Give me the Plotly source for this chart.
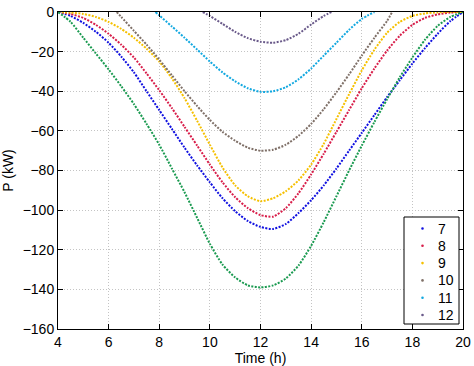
import plotly.graph_objects as go

# ---- data ----
T_FULL = [4.0, 4.5, 5.0, 5.5, 6.0, 6.5, 7.0, 7.5, 8.0, 8.5, 9.0, 9.5, 10.0, 10.5, 11.0, 11.5,
          12.0, 12.5, 13.0, 13.5, 14.0, 14.5, 15.0, 15.5, 16.0, 16.5, 17.0, 17.5, 18.0, 18.5,
          19.0, 19.5, 20.0]

P7 = [0, -2, -5.5, -10, -15.5, -22.5, -30.5, -40, -49.5, -59, -68.5, -77.5, -86, -94, -100.5,
      -105.5, -108.5, -109.5, -107, -101.5, -95, -87.5, -79, -70, -61, -52, -43, -34.5, -26,
      -18.2, -11, -4.6, 0]

P8 = [0, -1, -3, -6.5, -11, -16.5, -23, -31, -39.5, -48.5, -58, -67.5, -77, -86, -93.5, -99,
      -102.5, -103.3, -99, -91.5, -82, -71.5, -60.5, -49.5, -38.5, -28.5, -19.5, -12, -6.5,
      -3, -1.2, -0.3, 0]

P9 = [0, -0.3, -1, -2.5, -5, -8.5, -13, -18.5, -25, -33.5, -43.5, -55, -67, -78.5, -87.5, -93,
      -95.5, -94, -90.5, -85, -77, -66.5, -54, -41.5, -29.5, -19, -10.5, -5, -2, -0.7, -0.2,
      0, 0]

P_GREEN = [0, -5, -13, -21, -29, -37.5, -46.5, -56.5, -67, -79, -91, -104, -117, -127.5, -134,
           -138, -139, -138, -134.5, -128, -118, -106, -93, -80, -67.5, -55.5, -44, -33, -23,
           -14, -7, -2.5, 0]

T10 = [6.32, 6.5, 7.0, 7.5, 8.0, 8.5, 9.0, 9.5, 10.0, 10.5, 11.0, 11.5, 12.0, 12.5, 13.0, 13.5,
       14.0, 14.5, 15.0, 15.5, 16.0, 16.5, 17.0, 17.2]
P10 = [0, -2.5, -9.5, -16.5, -24, -32, -40, -47.5, -54.5, -60.5, -65, -68.5, -70, -69.5, -67,
       -62.5, -56.5, -49, -40.5, -31.5, -22, -13, -4.5, 0]

T11 = [7.85, 8.0, 8.5, 9.0, 9.5, 10.0, 10.5, 11.0, 11.5, 12.0, 12.5, 13.0, 13.5, 14.0, 14.5,
       15.0, 15.5, 16.0, 16.5]
P11 = [0, -1.7, -7.3, -13, -19, -25, -30.5, -35, -38.5, -40.3, -40, -38, -34, -28.5, -22, -15.5,
       -9, -3.5, 0]

T12 = [9.72, 10.0, 10.5, 11.0, 11.5, 12.0, 12.5, 13.0, 13.5, 14.0, 14.5, 14.8]
P12 = [0, -2, -6, -10, -13.2, -15, -15.5, -14.2, -11, -6.3, -2, 0]

LEGEND_LABELS = ["7", "8", "9", "10", "11", "12"]
X_TICKS = [4, 6, 8, 10, 12, 14, 16, 18, 20]
Y_TICKS = [0, -20, -40, -60, -80, -100, -120, -140, -160]

# ---- styles ----
series = [
    (T_FULL, P7, "#1010e0"),
    (T_FULL, P8, "#d81e4a"),
    (T_FULL, P9, "#f5c000"),
    (T10, P10, "#7f7068"),
    (T11, P11, "#12a8e0"),
    (T12, P12, "#6a5a8a"),
]
GREEN = "#1a9a50"

FONT = "Liberation Sans, Arial, Helvetica, sans-serif"
W, H = 474, 366
ML, MR, MT, MB = 58, 11, 12, 37
PW, PH = W - ML - MR, H - MT - MB

fig = go.Figure()

for (tx, py, col) in series:
    fig.add_trace(go.Scatter(x=tx, y=py, mode="lines",
                             line=dict(color=col, width=2, dash="2px,1.4px", shape="spline", smoothing=0.6),
                             showlegend=False, hoverinfo="skip"))
fig.add_trace(go.Scatter(x=T_FULL, y=P_GREEN, mode="lines",
                         line=dict(color=GREEN, width=2, dash="2px,1.4px", shape="spline", smoothing=0.6),
                         showlegend=False, hoverinfo="skip"))

# ---- legend box (drawn in paper coordinates, MATLAB style) ----
def px_x(p):
    return (p - ML) / PW

def px_y(p):
    return (H - MB - p) / PH

fig.add_shape(type="rect", xref="paper", yref="paper",
              x0=px_x(404), x1=px_x(459), y0=px_y(324), y1=px_y(217),
              line=dict(color="black", width=1), fillcolor="white", layer="above")
for i, (lab, (_, _, col)) in enumerate(zip(LEGEND_LABELS, series)):
    yc = 228.5 + 17.3 * i
    fig.add_shape(type="circle", xref="paper", yref="paper",
                  xsizemode="pixel", ysizemode="pixel",
                  xanchor=px_x(422.5), yanchor=px_y(yc),
                  x0=-1.3, x1=1.3, y0=-1.3, y1=1.3,
                  line=dict(width=0), fillcolor=col, layer="above")
    fig.add_annotation(xref="paper", yref="paper", x=px_x(436), y=px_y(yc),
                       xanchor="left", yanchor="middle", text=lab, showarrow=False,
                       font=dict(family=FONT, size=14, color="black"))

axis_common = dict(
    showline=True, linecolor="black", linewidth=1, mirror="ticks",
    ticks="inside", ticklen=5, tickcolor="black",
    showgrid=True, gridcolor="#c4c4c4", griddash="1px,2px", gridwidth=1,
    zeroline=False, tickfont=dict(family=FONT, size=14, color="black"),
)

fig.update_layout(
    width=W, height=H,
    margin=dict(l=ML, r=MR, t=MT, b=MB),
    paper_bgcolor="white", plot_bgcolor="white",
    font=dict(family=FONT, size=14, color="black"),
    xaxis=dict(range=[4, 20], tickvals=X_TICKS, ticktext=[str(v) for v in X_TICKS],
               title=dict(text="Time (h)", standoff=2, font=dict(family=FONT, size=14)),
               automargin=False, **axis_common),
    yaxis=dict(range=[-160, 0], tickvals=Y_TICKS,
               ticktext=[("\u2212" + str(-v)) if v < 0 else str(v) for v in Y_TICKS],
               title=dict(text="P (kW)", standoff=6, font=dict(family=FONT, size=14)),
               automargin=False, **axis_common),
    showlegend=False,
)

fig.write_html("out.html", config={"displayModeBar": False},
               post_script="document.body.style.margin='0';document.body.style.padding='0';")
